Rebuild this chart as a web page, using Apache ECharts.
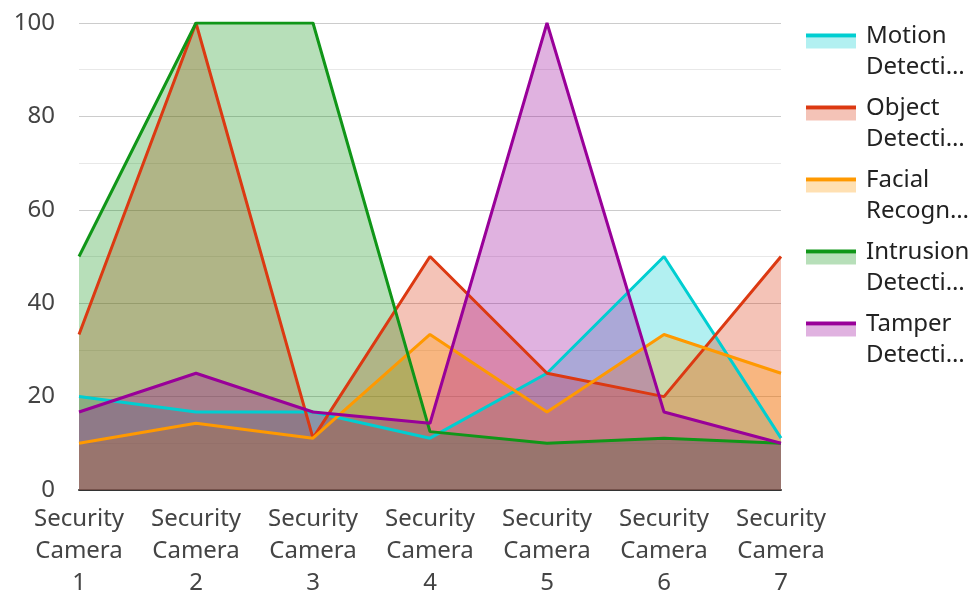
<!DOCTYPE html>
<html>
<head>
<meta charset="utf-8">
<script src="https://cdn.jsdelivr.net/npm/echarts@6/dist/echarts.min.js"></script>
<style>
  html, body { margin: 0; padding: 0; background: #fff; }
  #main { width: 973px; height: 594px; }
</style>
</head>
<body>
<div id="main"></div>
<script>
// data
var cameras = ['Security Camera 1', 'Security Camera 2', 'Security Camera 3', 'Security Camera 4',
               'Security Camera 5', 'Security Camera 6', 'Security Camera 7'];
var seriesNames = ['Motion Detection', 'Object Detection', 'Facial Recognition', 'Intrusion Detection', 'Tamper Detection'];
var legendLabels = ['Motion\nDetecti…', 'Object\nDetecti…', 'Facial\nRecogn…', 'Intrusion\nDetecti…', 'Tamper\nDetecti…'];
var colors = ['#00ced1', '#dc3912', '#ff9900', '#109618', '#990099'];

var motion    = [20, 16.7, 16.7, 11.1, 25, 50, 11.1];
var object    = [33.3, 100, 11.1, 50, 25, 20, 50];
var facial    = [10, 14.3, 11.1, 33.3, 16.7, 33.3, 25];
var intrusion = [50, 100, 100, 12.5, 10, 11.1, 10];
var tamper    = [16.7, 25, 16.7, 14.3, 100, 16.7, 10];
var values = [motion, object, facial, intrusion, tamper];

var yTicks = [0, 20, 40, 60, 80, 100];

var font = 'Noto Sans';

// legend icons: stroke bar on top, pale area below, padded so the icon sits on the first text line
// (the extra 5 units on the right push the text a bit further away)
var lineIcon = 'path://M0,0 H50 V4 H0 Z M0,37 L55,37';
var areaIcon = 'path://M0,0 L55,0 M0,4 H50 V15 H0 Z M0,37 L55,37';

var chart = echarts.init(document.getElementById('main'));

var series = seriesNames.map(function (name, i) {
    return {
        name: name,
        type: 'line',
        data: values[i],
        showSymbol: false,
        symbol: 'none',
        color: colors[i],
        lineStyle: { width: 3, color: colors[i] },
        areaStyle: { color: colors[i], opacity: 0.3 },
        emphasis: { disabled: true }
    };
});

function legendData(opacity) {
    return seriesNames.map(function (name, i) {
        return { name: name, itemStyle: { color: colors[i], opacity: opacity, borderWidth: 0 } };
    });
}

var legendBase = {
    orient: 'vertical',
    left: 806,
    top: 21,
    padding: 0,
    itemWidth: 55,
    itemHeight: 37,
    itemGap: 10,
    selectedMode: false,
    formatter: function (name) {
        return legendLabels[seriesNames.indexOf(name)];
    }
};

chart.setOption({
    animation: false,
    textStyle: { fontFamily: font },
    grid: { left: 79, right: 192, top: 23, bottom: 104, containLabel: false, outerBoundsMode: 'none' },
    legend: [
        Object.assign({}, legendBase, {
            icon: areaIcon,
            data: legendData(0.3),
            textStyle: { fontFamily: font, fontSize: 24, lineHeight: 31, color: 'transparent' }
        }),
        Object.assign({}, legendBase, {
            icon: lineIcon,
            data: legendData(1),
            textStyle: { fontFamily: font, fontSize: 24, lineHeight: 31, color: '#222' }
        })
    ],
    xAxis: {
        type: 'category',
        data: cameras,
        boundaryGap: false,
        axisLine: { lineStyle: { color: '#333', width: 2 } },
        axisTick: { show: false },
        axisLabel: {
            fontFamily: font,
            fontSize: 24,
            lineHeight: 32,
            color: '#444',
            margin: 13,
            interval: 0,
            formatter: function (v) { return v.split(' ').join('\n'); }
        }
    },
    yAxis: {
        type: 'value',
        min: yTicks[0],
        max: yTicks[yTicks.length - 1],
        interval: 20,
        axisLine: { show: false },
        axisTick: { show: false },
        axisLabel: { fontFamily: font, fontSize: 24, color: '#444', margin: 24 },
        splitLine: { lineStyle: { color: '#cccccc', width: 1 } },
        minorTick: { show: false, splitNumber: 2 },
        minorSplitLine: { show: true, lineStyle: { color: '#e8e8e8', width: 1 } }
    },
    series: series
});
</script>
</body>
</html>
